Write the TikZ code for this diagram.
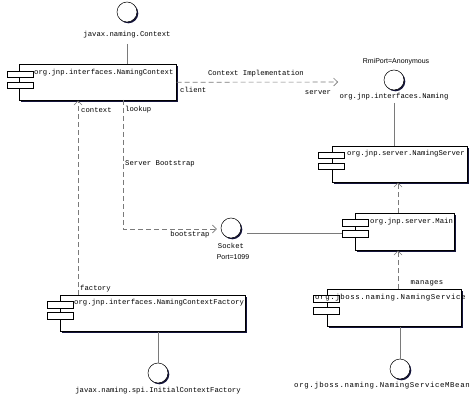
\documentclass[tikz,border=0pt]{standalone}
\usepackage{fontspec}
\setmainfont{Liberation Mono}
\newfontfamily\sansf{Liberation Sans}
\newfontfamily\widemono[LetterSpace=8]{Liberation Mono}
\newfontfamily\semimono[LetterSpace=5]{Liberation Mono}
\usetikzlibrary{shadows,arrows.meta}
\definecolor{shade}{HTML}{14143C}
\definecolor{wire}{HTML}{7A7A7A}
\tikzset{
  comp/.style={draw=black, fill=white, line width=0.6pt, rectangle, anchor=north west, inner sep=0pt,
    drop shadow={shadow xshift=1.3pt, shadow yshift=-1.3pt, fill=shade, opacity=1}},
  port/.style={draw=black, fill=white, line width=0.5pt, rectangle, minimum width=26pt, minimum height=6.5pt,
    inner sep=0pt, anchor=north west,
    drop shadow={shadow xshift=-0.5pt, shadow yshift=-0.7pt, fill=shade, opacity=1}},
  iface/.style={circle, draw=black, fill=white, line width=0.5pt, minimum size=20pt, inner sep=0pt,
    drop shadow={shadow xshift=1.3pt, shadow yshift=-1.3pt, fill=shade, opacity=1}},
  lbl/.style={font=\fontsize{7.25}{8}\selectfont, inner sep=0pt},
  jlbl/.style={font=\widemono\fontsize{7.4}{9}\selectfont, inner sep=0pt},
  slbl/.style={font=\sansf\fontsize{7}{8}\selectfont, inner sep=0pt},
  dep/.style={draw=wire, line width=0.6pt, dash pattern=on 5pt off 3pt,
    -{Straight Barb[length=4pt,width=8pt]}},
  link/.style={draw=wire, line width=0.6pt}
}
\begin{document}
\begin{tikzpicture}[x=1pt,y=-1pt]
\useasboundingbox (0,0) rectangle (474,401);
\fill[white] (0,0) rectangle (474,401);

% ---- components ----
\node[comp, minimum width=157pt, minimum height=36pt] (nc) at (19,64) {};
\node[port] (ncp1) at (7,71) {};
\node[port] (ncp2) at (7,82) {};
\node[lbl, anchor=west] (ncl) at (34,73) {org.jnp.interfaces.NamingContext};

\node[comp, minimum width=135pt, minimum height=36pt] (ns) at (332,146) {};
\node[port] (nsp1) at (318,152) {};
\node[port] (nsp2) at (318,163) {};
\node[lbl, anchor=west] (nsl) at (347,154) {org.jnp.server.NamingServer};

\node[comp, minimum width=99pt, minimum height=37pt] (mn) at (355,213) {};
\node[port] (mnp1) at (342,219) {};
\node[port] (mnp2) at (342,230) {};
\node[lbl, anchor=west] (mnl) at (370,222) {org.jnp.server.Main};

\node[comp, minimum width=185pt, minimum height=36pt] (fc) at (60,295) {};
\node[port] (fcp1) at (47,301) {};
\node[port] (fcp2) at (47,312) {};
\node[lbl, anchor=west] (fcl) at (74,303) {org.jnp.interfaces.NamingContextFactory};

\node[comp, minimum width=134pt, minimum height=37pt] (sv) at (327,289) {};
\node[port] (svp1) at (313,295) {};
\node[port] (svp2) at (313,307) {};
\node[jlbl, anchor=west] (svl) at (315,298) {org.jboss.naming.NamingService};

% ---- interfaces ----
\node[iface] (ctx) at (127,12) {};
\node[lbl] (ctxl) at (127,35) {javax.naming.Context};
\coordinate (ctxa) at (127,44);
\draw[link] (ctxa) -- (ctxa |- nc.north);

\node[iface] (nm) at (394,80) {};
\node[slbl] (rmi) at (396,62) {RmiPort=Anonymous};
\node[lbl] (nml) at (394,97) {org.jnp.interfaces.Naming};
\coordinate (nma) at (394,103);
\draw[link] (nma) -- (nma |- ns.north);

\node[iface] (sk) at (231,228) {};
\node[lbl] (skl) at (231,246) {Socket};
\node[slbl] (skp) at (233,257) {Port=1099};
\coordinate (ska) at (247,233);
\draw[link] (ska) -- (ska -| mnp2.west);

\node[iface] (icf) at (158,373) {};
\node[lbl] (icfl) at (158,391) {javax.naming.spi.InitialContextFactory};
\draw[link] (icf.north) -- (icf.north |- fc.south);

\node[iface] (mb) at (400,369) {};
\node[jlbl] (mbl) at (382,386) {org.jboss.naming.NamingServiceMBean};
\draw[link] (mb.north) -- (mb.north |- sv.south);

% ---- dependencies ----
\coordinate (ciend) at (338,82);
\draw[dep] (nc.east) -- (ciend);
\node[lbl] (cil) at (256,74) {Context Implementation};
\node[lbl, anchor=west] (cli) at (180,90) {client};
\node[lbl] (srv) at (318,93) {server};

\coordinate (lk) at (123,100);
\draw[dep] (lk) |- ([xshift=-4pt,yshift=-1pt]sk.west);
\node[lbl, anchor=west] (lkl) at (125,110) {lookup};
\node[lbl, anchor=west] (sbl) at (125,164) {Server Bootstrap};
\node[lbl] (bsl) at (190,235) {bootstrap};

\coordinate (fa) at (78,295);
\draw[dep] (fa) -- (fa |- nc.south);
\node[lbl, anchor=west] (cxl) at (81,110) {context};
\node[lbl, anchor=west] (fal) at (80,289) {factory};

\coordinate (ma) at (398,213);
\draw[dep] (ma) -- (ma |- ns.south);

\coordinate (sa) at (398,289);
\draw[dep] (sa) -- (sa |- mn.south);
\node[font=\semimono\fontsize{7.25}{9}\selectfont, inner sep=0pt] (mgl) at (427,283) {manages};
\end{tikzpicture}
\end{document}
